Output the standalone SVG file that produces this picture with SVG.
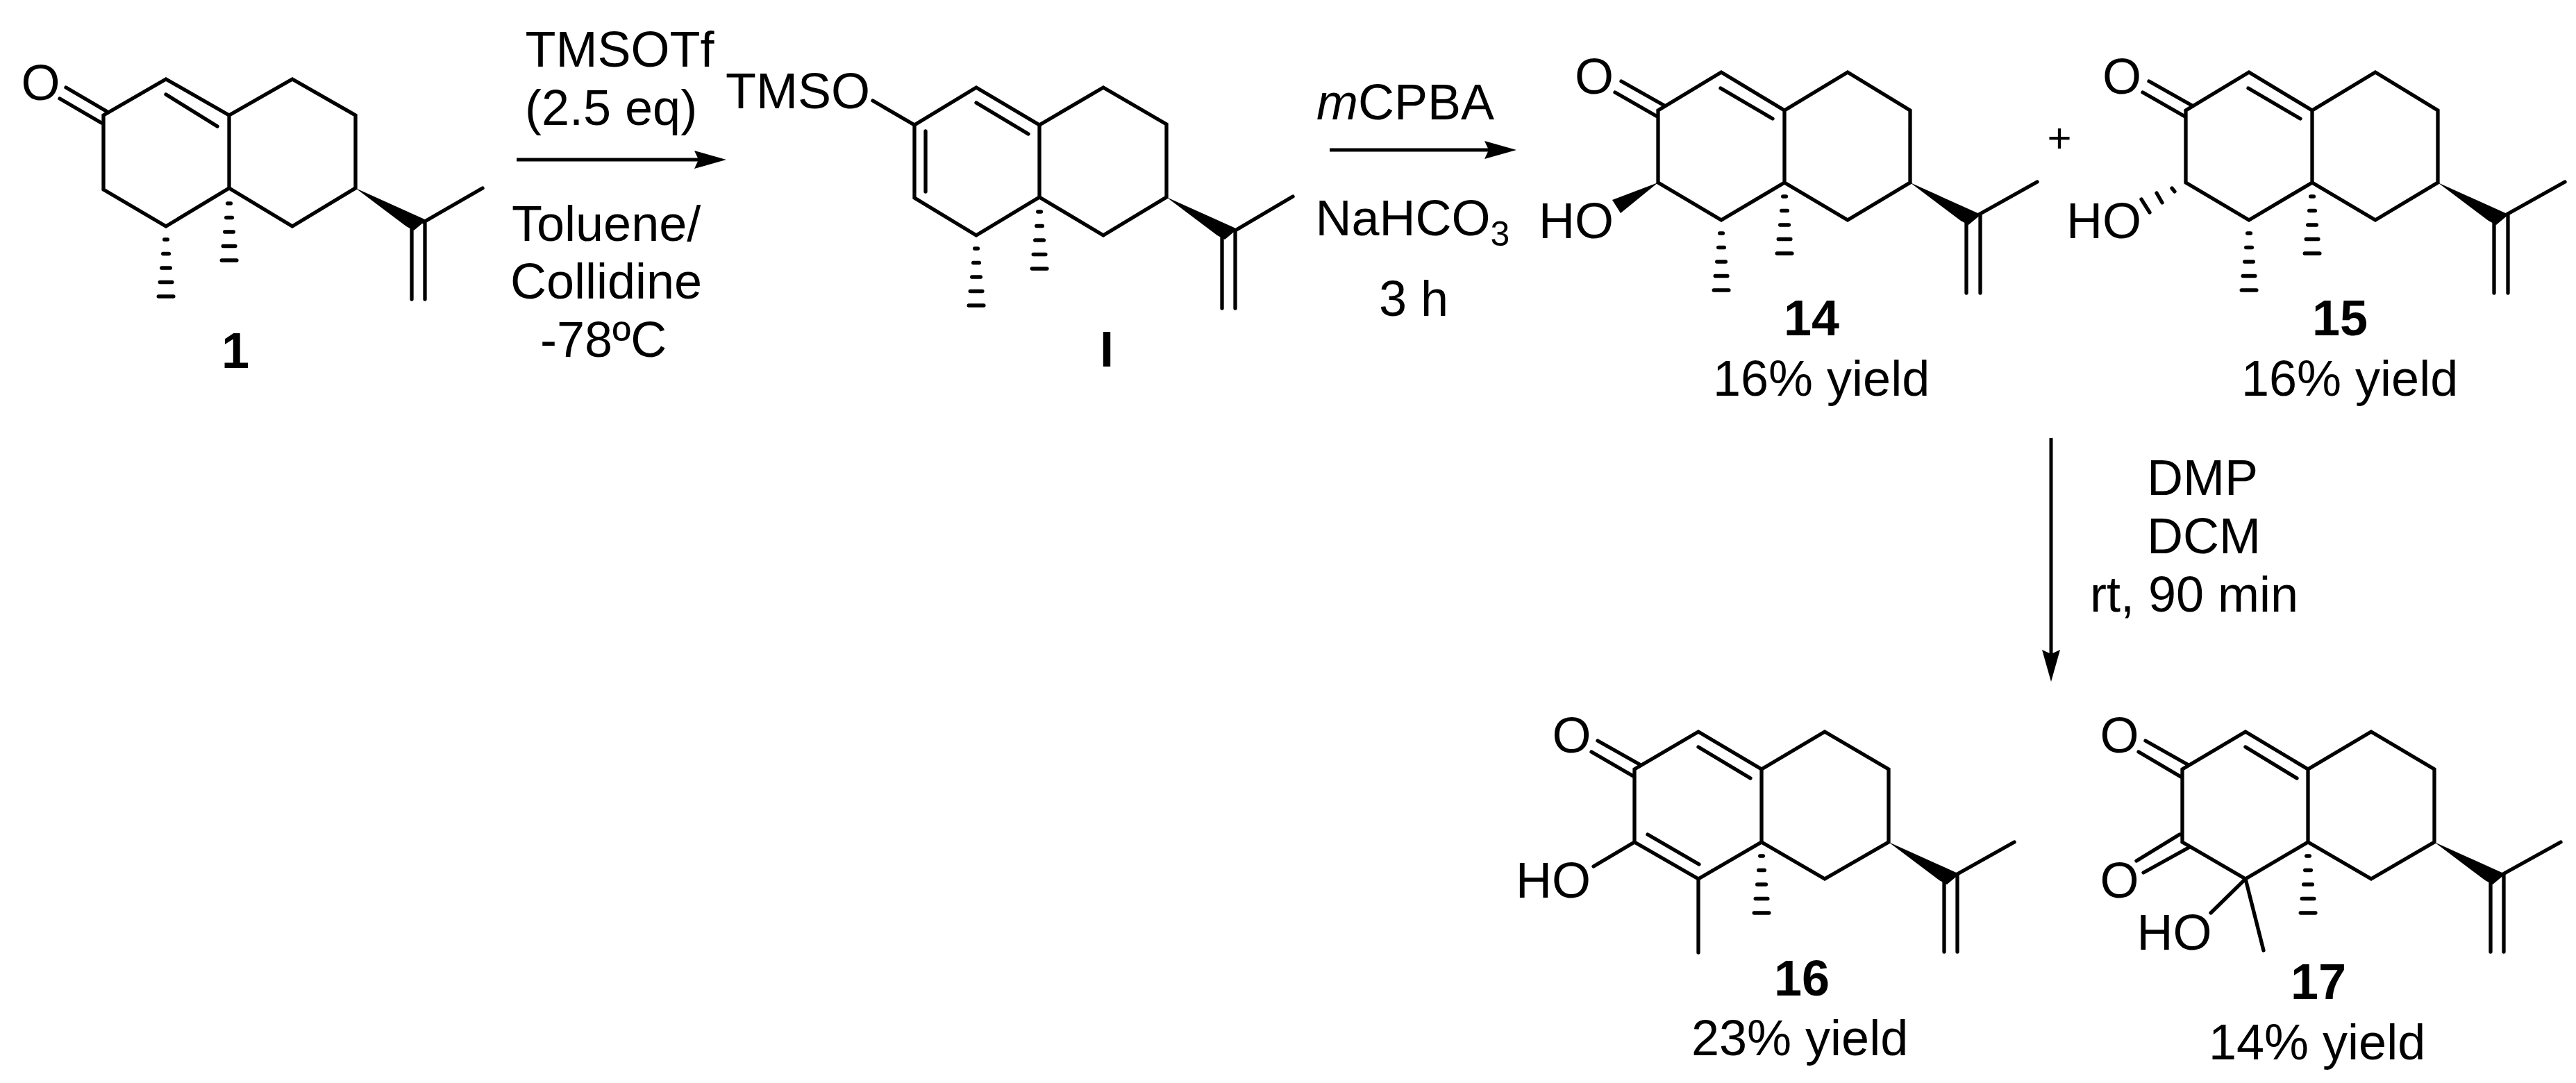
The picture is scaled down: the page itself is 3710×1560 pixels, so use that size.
<svg xmlns="http://www.w3.org/2000/svg" width="3710" height="1560" viewBox="0 0 3710 1560">
<style>
text{font-family:"Liberation Sans",Arial,sans-serif;font-size:72px;fill:#000}
.b{font-weight:bold}
.i{font-style:italic}
.sub{font-size:50px}
.pl{font-size:60px}
.bond{fill:none;stroke:#000;stroke-width:5.3;stroke-linecap:round;stroke-linejoin:miter}
.dash{fill:none;stroke:#000;stroke-width:5.5;stroke-linecap:round}
.arrow{fill:none;stroke:#000;stroke-width:5;marker-end:url(#head)}
</style>
<defs>
<marker id="head" markerUnits="userSpaceOnUse" markerWidth="46" markerHeight="26" viewBox="0 0 46 26" refX="6" refY="13" orient="auto"><path d="M0 0L46 13L0 26L6 13Z" fill="#000"/></marker>
<polygon id="wedge" points="0,0 102,46 84,61 73,55" fill="#000"/>
<path id="hash" class="dash" d="M-2.2 0h4.5M-4.2 20.5h8.5M-6.2 41h12.5M-8.7 61.5h17.5M-10.7 82h21.5"/>
</defs>
<rect width="3710" height="1560" fill="#fff"/>
<g id="connectors">
<line class="arrow" x1="744" y1="230" x2="1006" y2="230"/>
<line class="arrow" x1="1915" y1="216" x2="2144" y2="216"/>
<line class="arrow" x1="2954" y1="631" x2="2954" y2="942"/>
</g>
<g id="reagents-1">
<text x="756.5" y="96">TMSOTf</text>
<text x="756" y="180">(2.5 eq)</text>
<text x="737" y="347">Toluene/</text>
<text x="735" y="430">Collidine</text>
<text x="778" y="514">-78ºC</text>
</g>
<g id="reagents-2">
<text x="1896" y="172"><tspan class="i">m</tspan>CPBA</text>
<text x="1894.5" y="339">NaHCO<tspan class="sub" dy="15">3</tspan></text>
<text x="1986" y="455">3 h</text>
</g>
<g id="reagents-3">
<text x="3092" y="713">DMP</text>
<text x="3092" y="797">DCM</text>
<text x="3010" y="881">rt, 90 min</text>
</g>
<g id="plus"><text class="pl" x="2966" y="219" text-anchor="middle">+</text></g>
<g id="compound-1">
<path class="bond" d="M149 273V166L239 114L330 166V271L239 326L149 273M330 166L421 114L512 166V271L421 326L330 271M610 320L695 271M593 329V431M612 320V431M95 126L153 160M86 142L146 177M239 136L313 182"/>
<use href="#wedge" x="512" y="271"/>
<use href="#hash" x="239" y="345"/>
<use href="#hash" x="330" y="293"/>
<text x="30.5" y="144">O</text>
<text class="b" x="319" y="530">1</text>
</g>
<g id="compound-I">
<path class="bond" d="M1317 180V285L1406 339L1497 284V180L1406 126L1317 180M1497 180L1589 126L1680 179V284L1589 339L1497 284M1779 332L1862 283M1760 342V444M1779 332V444M1257 145L1317 180M1333 189V276M1406 148L1481 193"/>
<use href="#wedge" x="1680" y="284"/>
<use href="#hash" x="1406" y="358"/>
<use href="#hash" x="1497" y="305"/>
<text x="1045" y="156">TMSO</text>
<text class="b" x="1584" y="528">I</text>
</g>
<g id="compound-14">
<path class="bond" d="M2388 263V159L2479 104L2570 159V263L2479 317L2388 263M2570 159L2661 104L2751 159V263L2661 317L2570 263M2850 309L2934 262M2832 321V422M2852 309V422M2335 117L2397 152M2326 133L2387 168M2478 127L2553 171"/>
<use href="#wedge" x="2751" y="263"/>
<polygon points="2388,263 2322,288 2334,307" fill="#000"/>
<use href="#hash" x="2479" y="336"/>
<use href="#hash" x="2570" y="283"/>
<text x="2268" y="135">O</text>
<text x="2216" y="343">HO</text>
<text class="b" x="2569" y="483">14</text>
<text x="2467" y="570">16% yield</text>
</g>
<g id="compound-15">
<path class="bond" d="M3148 263V159L3239 104L3330 159V263L3239 317L3148 263M3330 159L3421 104L3511 159V263L3421 317L3330 263M3610 309L3694 262M3592 321V422M3612 309V422M3095 117L3157 152M3086 133L3147 168M3238 127L3313 171"/>
<use href="#wedge" x="3511" y="263"/>
<path class="bond" d="M3084 287L3096 306M3106 278L3114 292M3128 271L3132 276"/>
<use href="#hash" x="3239" y="336"/>
<use href="#hash" x="3330" y="283"/>
<text x="3028" y="135">O</text>
<text x="2976" y="343">HO</text>
<text class="b" x="3330" y="483">15</text>
<text x="3228" y="570">16% yield</text>
</g>
<g id="compound-16">
<path class="bond" d="M2354 1213V1108L2446 1054L2537 1108V1213L2446 1266L2354 1213M2537 1108L2628 1054L2720 1108V1213L2628 1266L2537 1213M2819 1259L2901 1213M2800 1271V1371M2819 1259V1371M2446 1266V1372M2354 1213L2295 1248M2301 1067L2363 1102M2292 1083L2354 1119M2446 1076L2521 1121M2373 1202L2447 1245"/>
<use href="#wedge" x="2720" y="1213"/>
<use href="#hash" x="2537" y="1233"/>
<text x="2235.5" y="1084">O</text>
<text x="2183" y="1293">HO</text>
<text class="b" x="2555" y="1434">16</text>
<text x="2436" y="1520">23% yield</text>
</g>
<g id="compound-17">
<path class="bond" d="M3143 1213V1108L3234 1054L3324 1108V1213L3234 1266L3143 1213M3324 1108L3415 1054L3506 1108V1213L3415 1266L3324 1213M3605 1259L3688 1213M3587 1271V1371M3606 1259V1371M3090 1067L3152 1102M3080 1083L3141 1119M3139 1202L3077 1240M3152 1221L3087 1257M3234 1076L3308 1121M3234 1266L3184 1315M3234 1266L3260 1369"/>
<use href="#wedge" x="3506" y="1213"/>
<use href="#hash" x="3324" y="1233"/>
<text x="3024.5" y="1084">O</text>
<text x="3024.5" y="1293">O</text>
<text x="3077.5" y="1368">HO</text>
<text class="b" x="3299" y="1439">17</text>
<text x="3181" y="1526">14% yield</text>
</g>
</svg>
